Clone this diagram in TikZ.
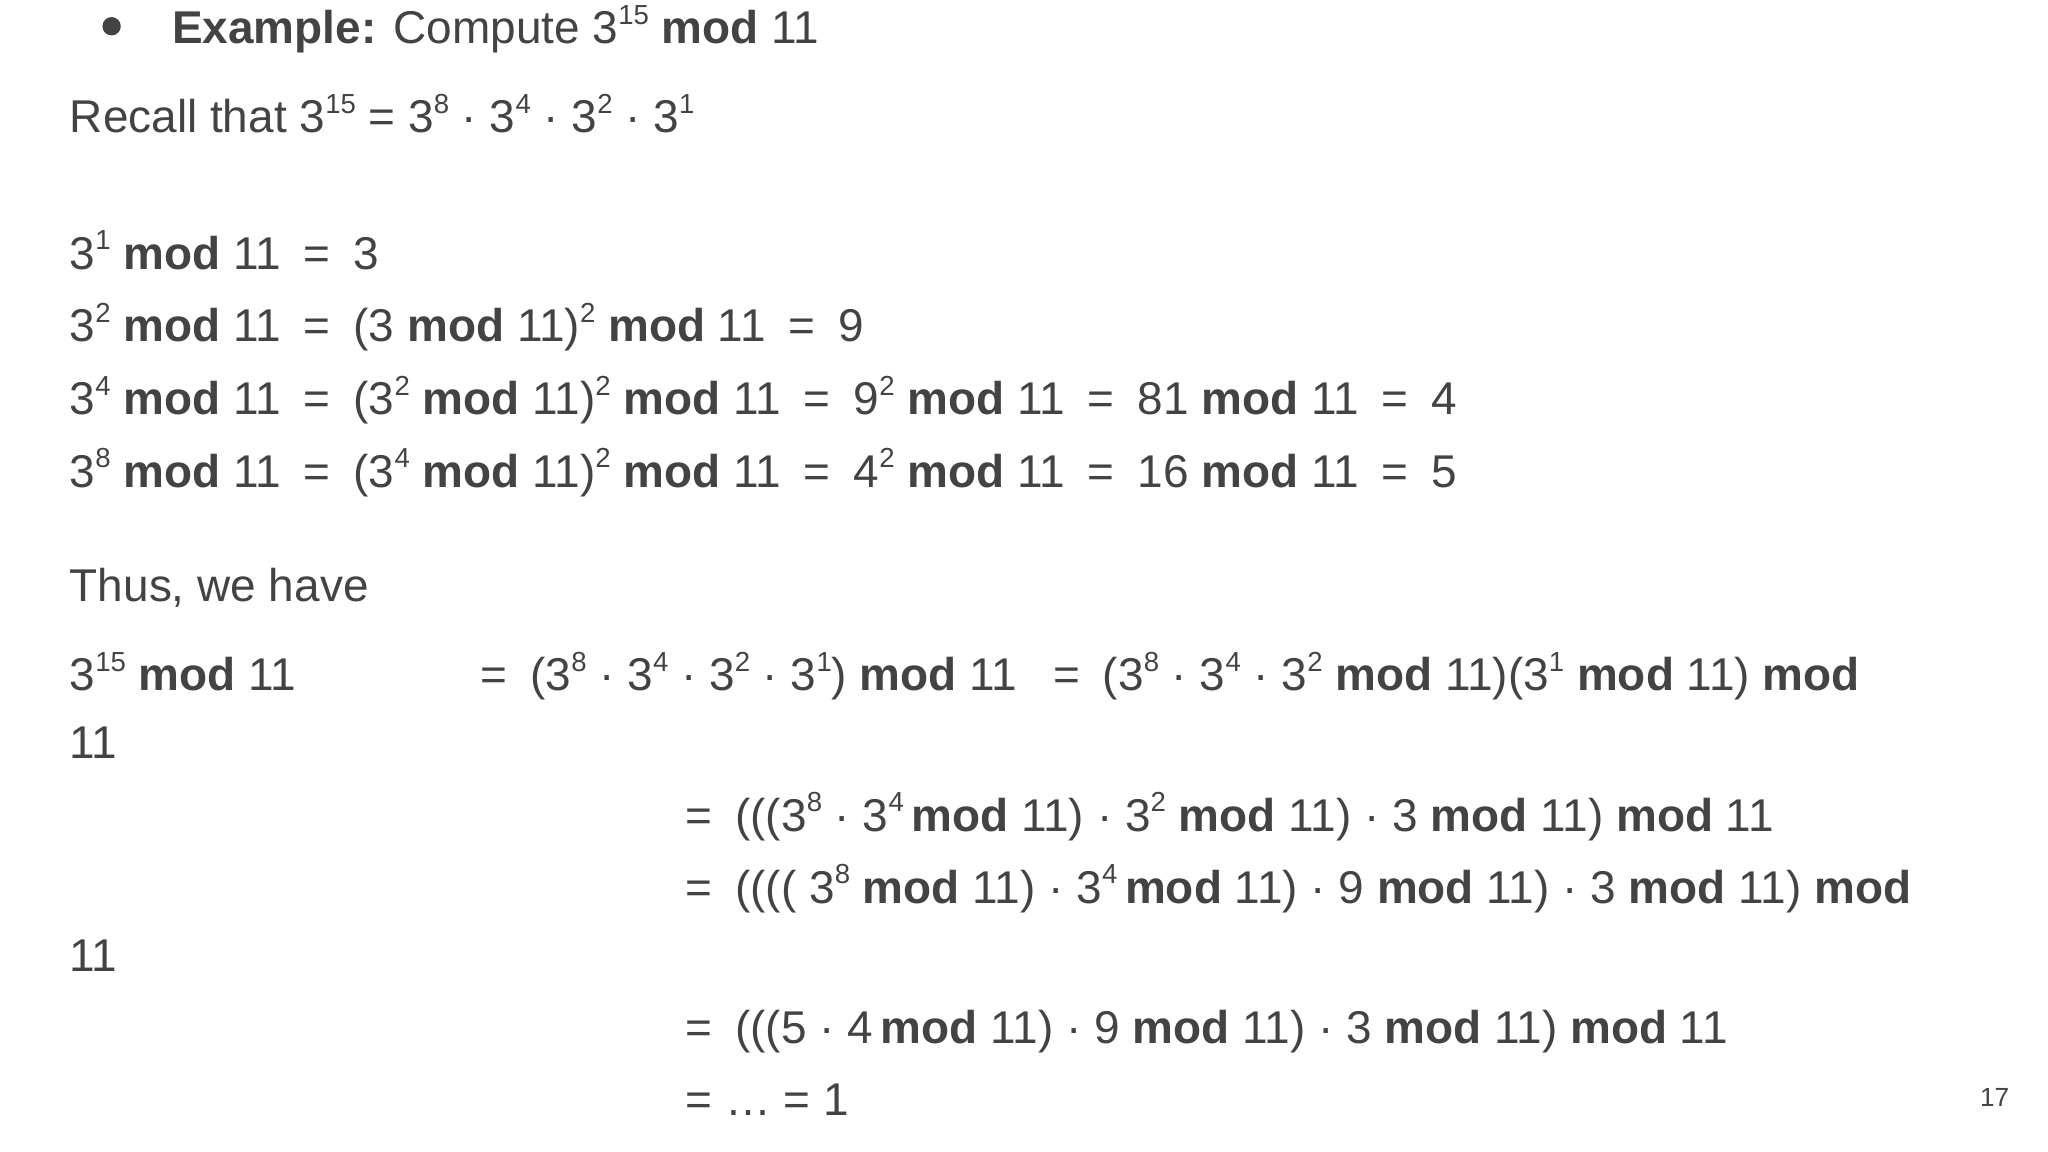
\documentclass[tikz,border=0pt]{standalone}
\usepackage{fontspec}
\setmainfont{Liberation Sans}
\definecolor{txt}{HTML}{434343}
\newcommand{\ssup}[1]{\raisebox{0.42em}{\fontsize{21}{21}\selectfont #1}}
\newcommand{\mo}{\textbf{mod}}
\newcommand{\sq}{\enspace}
\begin{document}
\begin{tikzpicture}[x=1pt,y=-1pt,every node/.style={anchor=base west,inner sep=0pt,text=txt,font=\fontsize{35}{40}\selectfont}]
\useasboundingbox (0,0) rectangle (1560,877.5);
\fill[txt] (85,20) circle (7);
\node (t1) at (131,33) {\textbf{Example:} Compute 3\ssup{15} \mo{} 11};
\node (t2) at (53,101) {Recall that 3\ssup{15} = 3\ssup{8} · 3\ssup{4} · 3\ssup{2} · 3\ssup{1}};
\node (a1) at (53,205) {3\ssup{1} \mo{} 11\sq=\sq 3};
\node (a2) at (53,260) {3\ssup{2} \mo{} 11\sq=\sq (3 \mo{} 11)\ssup{2} \mo{} 11\sq=\sq 9};
\node (a3) at (53,316) {3\ssup{4} \mo{} 11\sq=\sq (3\ssup{2} \mo{} 11)\ssup{2} \mo{} 11\sq=\sq 9\ssup{2} \mo{} 11\sq=\sq 81 \mo{} 11\sq=\sq 4};
\node (a4) at (53,371) {3\ssup{8} \mo{} 11\sq=\sq (3\ssup{4} \mo{} 11)\ssup{2} \mo{} 11\sq=\sq 4\ssup{2} \mo{} 11\sq=\sq 16 \mo{} 11\sq=\sq 5};
\node (th) at (53,458) {Thus, we have};
\node (b0) at (53,526) {3\ssup{15} \mo{} 11};
\node (b1) at (366,526) {=\sq (3\ssup{8} · 3\ssup{4} · 3\ssup{2} · 3\ssup{1}) \mo{} 11\sq\ =\sq (3\ssup{8} · 3\ssup{4} · 3\ssup{2} \mo{} 11)(3\ssup{1} \mo{} 11) \mo};
\node (b2) at (53,578) {11};
\node (c1) at (522,633) {=\sq (((3\ssup{8} · 3\ssup{4}\,\mo{} 11) · 3\ssup{2} \mo{} 11) · 3 \mo{} 11) \mo{} 11};
\node (c2) at (522,688) {=\sq (((( 3\ssup{8} \mo{} 11) · 3\ssup{4}\,\mo{} 11) · 9 \mo{} 11) · 3 \mo{} 11) \mo};
\node (c3) at (53,740) {11};
\node (c4) at (522,795) {=\sq (((5 · 4\,\mo{} 11) · 9 \mo{} 11) · 3 \mo{} 11) \mo{} 11};
\node (c5) at (522,850) {= … = 1};
\node[font=\fontsize{20}{24}\selectfont] (pg) at (1508,843) {17};
\end{tikzpicture}
\end{document}
